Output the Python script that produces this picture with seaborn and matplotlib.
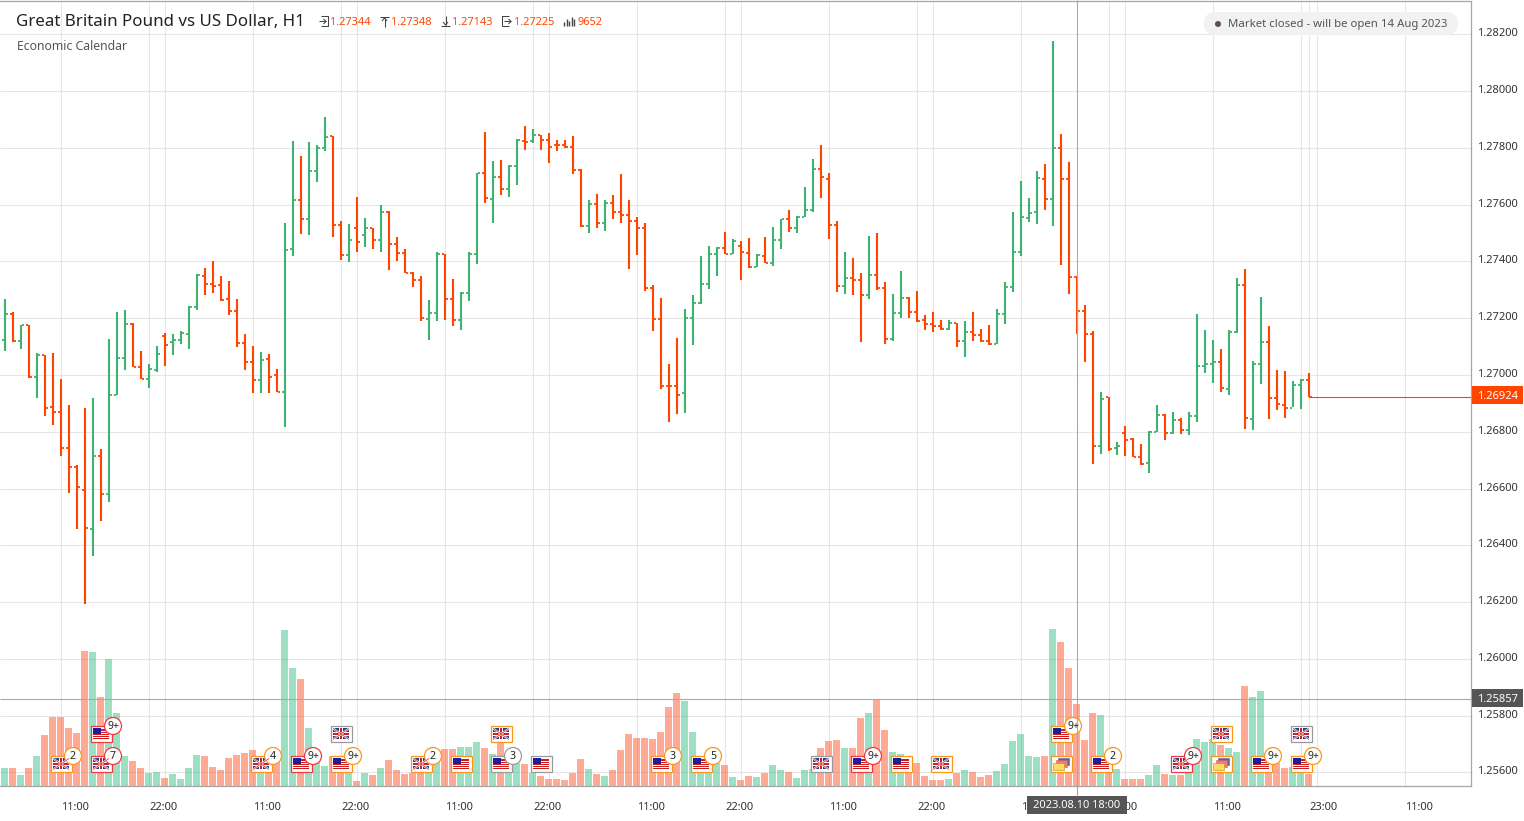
import numpy as np
import pandas as pd
import seaborn as sns
from matplotlib import pyplot as plt
from matplotlib import transforms
from matplotlib.patches import Rectangle, Circle, FancyBboxPatch

# H1 bars, one row of ten per line
opens = [
    1.27124,1.27215,1.27120,1.27175,1.26993,1.27072,1.26889,1.26870,1.26743,1.26676,
    1.26595,1.26458,1.26715,1.26581,1.26930,1.27060,1.27180,1.27029,1.26986,1.27018,
    1.27139,1.27117,1.27124,1.27146,1.27239,1.27350,1.27321,1.27317,1.27267,1.27226,
    1.27114,1.27047,1.26983,1.27057,1.27000,1.26941,1.27445,1.27616,1.27551,1.27720,
    1.27801,1.27841,1.27530,1.27424,1.27519,1.27495,1.27517,1.27474,1.27576,1.27463,
    1.27431,1.27361,1.27336,1.27199,1.27217,1.27425,1.27269,1.27195,1.27290,1.27428,
    1.27711,1.27619,1.27696,1.27657,1.27738,1.27826,1.27826,1.27845,1.27829,1.27812,
    1.27809,1.27802,1.27724,1.27526,1.27604,1.27537,1.27607,1.27573,1.27563,1.27541,
    1.27519,1.27306,1.27199,1.26963,1.26963,1.26935,1.27202,1.27252,1.27319,1.27428,
    1.27449,1.27428,1.27456,1.27431,1.27382,1.27421,1.27396,1.27477,1.27548,1.27519,
    1.27558,1.27583,1.27727,1.27692,1.27530,1.27312,1.27343,1.27333,1.27283,1.27354,
    1.27308,1.27127,1.27219,1.27273,1.27222,1.27194,1.27180,1.27173,1.27162,1.27185,
    1.27120,1.27150,1.27142,1.27121,1.27110,1.27215,1.27310,1.27435,1.27553,1.27575,
    1.27691,1.27620,1.27800,1.27691,1.27344,1.27226,1.27145,1.26751,1.26921,1.26744,
    1.26795,1.26776,1.26712,1.26689,1.26800,1.26860,1.26797,1.26843,1.26807,1.26854,
    1.27033,1.27040,1.27047,1.26952,1.27150,1.27318,1.26846,1.27040,1.27117,1.26920,
    1.26896,1.26885,1.26966,1.26984]
highs = [
    1.27268,1.27221,1.27175,1.27175,1.27077,1.27072,1.27077,1.26985,1.26894,1.26682,
    1.26883,1.26918,1.26739,1.27126,1.27221,1.27228,1.27182,1.27084,1.27038,1.27101,
    1.27147,1.27144,1.27154,1.27242,1.27355,1.27377,1.27401,1.27348,1.27331,1.27268,
    1.27144,1.27101,1.27080,1.27073,1.27020,1.27536,1.27826,1.27772,1.27821,1.27811,
    1.27909,1.27842,1.27543,1.27532,1.27627,1.27553,1.27518,1.27599,1.27578,1.27487,
    1.27444,1.27362,1.27349,1.27265,1.27434,1.27425,1.27339,1.27292,1.27434,1.27712,
    1.27856,1.27754,1.27758,1.27739,1.27832,1.27877,1.27867,1.27846,1.27853,1.27828,
    1.27828,1.27842,1.27726,1.27617,1.27638,1.27617,1.27634,1.27708,1.27617,1.27557,
    1.27536,1.27317,1.27272,1.27039,1.27131,1.27233,1.27282,1.27420,1.27455,1.27451,
    1.27504,1.27480,1.27472,1.27483,1.27427,1.27487,1.27522,1.27550,1.27582,1.27559,
    1.27663,1.27761,1.27811,1.27712,1.27543,1.27434,1.27413,1.27360,1.27490,1.27501,
    1.27328,1.27285,1.27366,1.27274,1.27295,1.27211,1.27221,1.27193,1.27193,1.27185,
    1.27189,1.27221,1.27161,1.27175,1.27232,1.27327,1.27573,1.27683,1.27623,1.27718,
    1.27742,1.28176,1.27848,1.27749,1.27348,1.27246,1.27154,1.26940,1.26922,1.26764,
    1.26820,1.26778,1.26757,1.26802,1.26894,1.26863,1.26870,1.26849,1.26870,1.27215,
    1.27158,1.27123,1.27092,1.27158,1.27342,1.27373,1.27049,1.27275,1.27173,1.27018,
    1.27014,1.26979,1.26986,1.27007]
lows = [
    1.27086,1.27115,1.27090,1.26988,1.26918,1.26857,1.26825,1.26713,1.26586,1.26456,
    1.26193,1.26361,1.26487,1.26551,1.26930,1.27019,1.27027,1.26985,1.26956,1.27012,
    1.27033,1.27069,1.27111,1.27093,1.27229,1.27281,1.27288,1.27260,1.27211,1.27100,
    1.27016,1.26935,1.26935,1.26935,1.26939,1.26818,1.27418,1.27496,1.27492,1.27679,
    1.27788,1.27485,1.27404,1.27397,1.27433,1.27450,1.27443,1.27433,1.27369,1.27401,
    1.27359,1.27309,1.27190,1.27123,1.27191,1.27193,1.27172,1.27158,1.27260,1.27390,
    1.27605,1.27535,1.27633,1.27626,1.27669,1.27792,1.27818,1.27792,1.27746,1.27788,
    1.27799,1.27708,1.27521,1.27499,1.27517,1.27506,1.27549,1.27535,1.27373,1.27422,
    1.27295,1.27154,1.26950,1.26834,1.26862,1.26866,1.27105,1.27249,1.27302,1.27348,
    1.27425,1.27425,1.27334,1.27376,1.27380,1.27394,1.27383,1.27443,1.27503,1.27499,
    1.27556,1.27573,1.27623,1.27478,1.27292,1.27285,1.27281,1.27116,1.27267,1.27299,
    1.27109,1.27121,1.27202,1.27202,1.27188,1.27160,1.27150,1.27160,1.27157,1.27097,
    1.27065,1.27121,1.27118,1.27104,1.27108,1.27178,1.27294,1.27421,1.27540,1.27533,
    1.27583,1.27526,1.27389,1.27287,1.27143,1.27047,1.26685,1.26721,1.26731,1.26717,
    1.26714,1.26710,1.26682,1.26654,1.26798,1.26770,1.26791,1.26791,1.26788,1.26833,
    1.27006,1.26971,1.26939,1.26928,1.27148,1.26809,1.26805,1.26967,1.26844,1.26876,
    1.26847,1.26886,1.26879,1.26921]
closes = [
    1.27215,1.27119,1.27175,1.26992,1.27072,1.26883,1.26870,1.26743,1.26676,1.26606,
    1.26462,1.26715,1.26581,1.26930,1.27060,1.27180,1.27029,1.26986,1.27022,1.27074,
    1.27106,1.27124,1.27147,1.27241,1.27352,1.27321,1.27314,1.27266,1.27225,1.27114,
    1.27047,1.26983,1.27053,1.26993,1.26941,1.27442,1.27616,1.27551,1.27720,1.27801,
    1.27840,1.27530,1.27424,1.27477,1.27470,1.27519,1.27474,1.27576,1.27463,1.27431,
    1.27360,1.27336,1.27202,1.27217,1.27425,1.27269,1.27195,1.27290,1.27428,1.27711,
    1.27622,1.27696,1.27657,1.27738,1.27827,1.27822,1.27845,1.27827,1.27805,1.27811,
    1.27802,1.27724,1.27524,1.27604,1.27537,1.27607,1.27573,1.27565,1.27541,1.27519,
    1.27306,1.27199,1.26963,1.26963,1.26931,1.27202,1.27252,1.27319,1.27428,1.27449,
    1.27428,1.27471,1.27435,1.27379,1.27423,1.27396,1.27477,1.27548,1.27519,1.27558,
    1.27583,1.27727,1.27696,1.27530,1.27312,1.27343,1.27333,1.27283,1.27354,1.27308,
    1.27127,1.27219,1.27272,1.27222,1.27192,1.27181,1.27174,1.27162,1.27185,1.27120,
    1.27150,1.27142,1.27121,1.27110,1.27215,1.27310,1.27435,1.27557,1.27572,1.27695,
    1.27620,1.27800,1.27691,1.27346,1.27225,1.27145,1.26750,1.26917,1.26741,1.26751,
    1.26772,1.26712,1.26688,1.26800,1.26860,1.26797,1.26843,1.26807,1.26854,1.27033,
    1.27040,1.27047,1.26955,1.27150,1.27318,1.26850,1.27040,1.27117,1.26920,1.26899,
    1.26885,1.26966,1.26984,1.26924]
volumes = [
    2156,2156,1333,2156,3567,6037,8154,8154,6860,6272,
    15915,15798,10506,14974,8624,3567,2979,2156,1568,1686,
    980,1450,862,2156,3685,3567,2274,1921,3332,3685,
    3920,4273,2509,2705,4273,18385,13916,12622,6860,3920,
    2391,3567,3097,1529,627,1568,1333,2156,3097,1921,
    1450,1568,1921,2313,3097,4390,4390,4626,4626,5214,
    4508,3802,5449,2313,2705,2626,1529,1215,862,862,
    745,1568,3214,2038,1450,1215,1921,4273,6154,5684,
    5684,5566,6390,9330,10976,10035,6390,3097,2509,2705,
    2509,1098,745,1215,1098,1568,2509,1921,1686,980,
    1921,2038,4508,5331,5449,4508,4508,8036,8624,10153,
    6625,4038,3802,2744,2744,1215,745,745,862,1568,
    1921,1686,1098,1333,1803,2626,5331,6154,3567,3450,
    3567,18502,16974,13916,9652,5449,8624,8389,2313,2038,
    862,862,862,1333,2509,1450,1333,1333,2313,5566,
    5214,5566,4861,4508,4038,11799,10506,11211,3097,2705,
    2156,2313,2313,1450]

price_ticks = [1.256,1.258,1.260,1.262,1.264,1.266,1.268,1.270,1.272,1.274,1.276,1.278,1.280,1.282]
time_bars = [7,18,31,42,55,66,79,90,103,114,127,138,151,163,175]
time_labels = ['11:00','22:00','11:00','22:00','11:00','22:00','11:00','22:00','11:00','22:00','11:00','22:00','11:00','23:00','11:00']
extra_grid_bars = [20,44,68,92,116,140,162,164]

# calendar events
event_bars = [7,12,12,32,37,42,42,52,57,62,62,67,82,87,102,107,112,117,132,132,137,147,152,152,157,162,162]
event_rows = [0,1,0,0,0,1,0,0,0,1,0,0,0,0,0,0,0,0,1,0,0,0,1,0,0,1,0]
event_kind = ['uk','us','uk','uk','us','uk','us','uk','us','uk','us','us','us','us','uk','us','us','uk','us','all','us','uk','uk','all','us','uk','us']
event_level = ['o','r','r','o','r','g','o','o','o','o','g','g','o','o','g','r','o','o','o','o','o','r','o','o','o','g','o']
event_count = ['2','9+','7','4','9+','','9+','2','','','3','','3','5','','9+','','','9+','','2','9+','','','9+','','9+']

cross_bar = 134
cross_price = 1.25857
cross_time = '2023.08.10 18:00'
last_price = closes[-1]

UP = '#3cb371'
DOWN = '#ff4500'
VOL_UP = '#3bc187'
VOL_DOWN = '#ff572d'
GRID = '#e6e6e6'
BORDER = '#a6a6a6'
LEVELS = {'o': '#f7981d', 'r': '#ee3a43', 'g': '#9a9a9a'}

sns.set_theme(style='white')
plt.rcParams['font.family'] = ['Noto Sans', 'DejaVu Sans']

W, H = 1524, 821
fig = plt.figure(figsize=(W / 100, H / 100), dpi=100)
top_px, bottom_px, right_px = 1.0, 786.3, 1470.5
ax = fig.add_axes([0, 1 - bottom_px / H, right_px / W, (bottom_px - top_px) / H])
ax_vol = ax.twinx()

df = pd.DataFrame({'bar': np.arange(len(opens)), 'o': opens, 'h': highs, 'l': lows, 'c': closes, 'v': volumes})
df['side'] = np.where(df['c'] > df['o'], 'up', 'down')
colors = df['side'].map({'up': UP, 'down': DOWN}).values

# volume underneath on its own scale
sns.barplot(data=df, x='bar', y='v', hue='side', hue_order=['up', 'down'],
            palette={'up': VOL_UP, 'down': VOL_DOWN}, native_scale=True, dodge=False, width=0.875,
            alpha=0.5, saturation=1, linewidth=0, errorbar=None, legend=False, ax=ax_vol)
# half a pixel left so each bar lands on 7 whole pixels
for p in ax_vol.patches:
    p.set_x(p.get_x() - 0.0625)

# open/close ticks and high-low sticks
ax.vlines(df['bar'], df['l'], df['h'], colors=colors, linewidth=1.5, zorder=3)
ax.hlines(df['o'], df['bar'] - 0.375, df['bar'] - 0.125, colors=colors, linewidth=1.3, zorder=3)
ax.hlines(df['c'], df['bar'] + 0.125, df['bar'] + 0.375, colors=colors, linewidth=1.3, zorder=3)

xlim = (-5 / 8, (right_px - 5) / 8)
ax.plot([df['bar'].iloc[-1], xlim[1]], [last_price, last_price], color=DOWN, linewidth=0.8, zorder=3)

ax.set_xlim(xlim)
ax.set_ylim(1.282 - (bottom_px - 34.4) * 3.523e-5, 1.282 + (34.4 - top_px) * 3.523e-5)
ax_vol.set_ylim(0, (bottom_px - top_px) * 117.7)
ax_vol.set_xlim(xlim)
ax_vol.set_xlabel('')
ax_vol.set_ylabel('')
ax_vol.set_yticks([])
ax_vol.grid(False)
for s in ax_vol.spines.values():
    s.set_visible(False)

ax.yaxis.tick_right()
ax.set_yticks(price_ticks)
ax.set_yticklabels(['%.5f' % p for p in price_ticks])
ax.set_xticks(time_bars)
ax.set_xticklabels(time_labels)
ax.set_xticks(extra_grid_bars, minor=True)
ax.grid(which='both', color=GRID, linewidth=0.75)
ax.set_axisbelow(True)
ax.tick_params(which='both', length=0)
ax.tick_params(axis='y', pad=4.4, labelsize=8, labelcolor='#333333')
ax.tick_params(axis='x', pad=11.4, labelsize=8, labelcolor='#333333', bottom=False)
for name, s in ax.spines.items():
    s.set_color(BORDER)
    s.set_linewidth(0.9)
ax.spines['left'].set_visible(False)

# tick labels sit off their gridlines on the terminal
shift_x = transforms.ScaledTranslation(14 / 100, 0, fig.dpi_scale_trans)
shift_y = transforms.ScaledTranslation(0, 2 / 100, fig.dpi_scale_trans)
for lbl in ax.get_xticklabels():
    lbl.set_transform(lbl.get_transform() + shift_x)
for lbl in ax.get_yticklabels():
    lbl.set_transform(lbl.get_transform() + shift_y)

# everything else is laid over in pixel coordinates
ov = fig.add_axes([0, 0, 1, 1], zorder=10)
ov.set_xlim(0, W)
ov.set_ylim(H, 0)
ov.axis('off')
ov.patch.set_visible(False)


def to_px(bar, price=None):
    x, y = ax.transData.transform((bar, price if price is not None else ax.get_ylim()[0]))
    return x, H - y


def line(xs, ys, color, lw=0.75):
    ov.plot(xs, ys, color=color, linewidth=lw, solid_capstyle='butt')


def draw_flag(cx, top, kind, level, count):
    edge = LEVELS[level]
    ov.add_patch(Rectangle((cx - 10.5, top), 21, 16, facecolor='white', edgecolor=edge, linewidth=0.9))
    fx, fy, fw, fh = cx - 8, top + 2.5, 16, 11
    if kind == 'us':
        for k in range(5):
            ov.add_patch(Rectangle((fx, fy + 1 + k * 2.2), fw, 1.1, facecolor='#cc1c1c', linewidth=0))
        ov.add_patch(Rectangle((fx, fy), 7.5, 6, facecolor='#1c1c9e', linewidth=0))
    elif kind == 'uk':
        ov.add_patch(Rectangle((fx, fy), fw, fh, facecolor='#22408f', linewidth=0))
        line([fx, fx + fw], [fy, fy + fh], 'white', 1.4)
        line([fx, fx + fw], [fy + fh, fy], 'white', 1.4)
        line([fx, fx + fw], [fy, fy + fh], '#cc1c1c', 0.5)
        line([fx, fx + fw], [fy + fh, fy], '#cc1c1c', 0.5)
        ov.add_patch(Rectangle((fx + 6, fy), 4, fh, facecolor='white', linewidth=0))
        ov.add_patch(Rectangle((fx, fy + 3.5), fw, 4, facecolor='white', linewidth=0))
        ov.add_patch(Rectangle((fx + 7, fy), 2, fh, facecolor='#cc1c1c', linewidth=0))
        ov.add_patch(Rectangle((fx, fy + 4.5), fw, 2, facecolor='#cc1c1c', linewidth=0))
    else:
        ov.add_patch(Rectangle((cx - 3, top + 2.5), 11, 7, facecolor='#5a5fb0', edgecolor='#5a5fb0', linewidth=0.4))
        ov.add_patch(Rectangle((cx - 5.5, top + 4.5), 11, 7, facecolor='#ee7a6a', edgecolor='#e0605a', linewidth=0.4))
        ov.add_patch(Rectangle((cx - 8, top + 7), 11, 7, facecolor='#ffdc6a', edgecolor='#c89a20', linewidth=0.5))
    if count:
        ov.add_patch(Circle((cx + 12, top), 8.5, facecolor='white', edgecolor=edge, linewidth=0.9))
        ov.text(cx + 12, top + 0.5, count, ha='center', va='center', fontsize=7.6, color='#222222')


for bar, row, kind, level, count in zip(event_bars, event_rows, event_kind, event_level, event_count):
    draw_flag(to_px(bar)[0], 726 if row else 756, kind, level, count)

# crosshair
cx, cy = to_px(cross_bar, cross_price)
line([cx, cx], [0, 796], '#a8a8a8', 0.8)
line([0, right_px], [cy, cy], '#a8a8a8', 0.8)
ov.add_patch(Rectangle((1472, cy - 10), 51, 18, facecolor='#555555', linewidth=0))
ov.text(1477, cy, '%.5f' % cross_price, ha='left', va='center', fontsize=8, color='white')
ov.add_patch(Rectangle((cx - 50, 796), 100, 18, facecolor='#555555', linewidth=0))
ov.text(cx, 806, cross_time, ha='center', va='center', fontsize=8, color='white')

# last price box
lx, ly = to_px(len(opens) - 1, last_price)
ov.add_patch(Rectangle((1472, ly - 10.5), 51, 18, facecolor=DOWN, linewidth=0))
ov.text(1477, ly, '%.5f' % last_price, ha='left', va='center', fontsize=8, color='white', fontweight='medium')

# header
ov.text(16, 22, 'Great Britain Pound vs US Dollar, H1', ha='left', va='center', fontsize=12.2, color='#222222')
ov.text(17, 47, 'Economic Calendar', ha='left', va='center', fontsize=8.8, color='#555555')
bar_o, bar_h, bar_l, bar_c = opens[cross_bar], highs[cross_bar], lows[cross_bar], closes[cross_bar]
for x, val in zip([330, 391, 452, 514], [bar_o, bar_h, bar_l, bar_c]):
    ov.text(x, 22.5, '%.5f' % val, ha='left', va='center', fontsize=7.9, color=DOWN)
ov.text(578, 22.5, str(volumes[cross_bar]), ha='left', va='center', fontsize=7.9, color=DOWN)
ic = '#444444'
line([319, 326], [21.5, 21.5], ic); line([323.5, 326, 323.5], [19, 21.5, 24], ic); line([321, 328, 328, 321], [16.5, 16.5, 26.5, 26.5], ic)
line([380, 389], [17, 17], ic); line([384.5, 384.5], [18, 27], ic); line([382, 384.5, 387], [21, 18, 21], ic)
line([441, 450], [26, 26], ic); line([445.5, 445.5], [16, 25], ic); line([443, 445.5, 448], [22, 25, 22], ic)
line([509, 502, 502, 509], [16.5, 16.5, 26.5, 26.5], ic); line([504, 511], [21.5, 21.5], ic); line([508.5, 511, 508.5], [19, 21.5, 24], ic)
for x, h in zip([564, 566.5, 569, 571.5, 574], [4, 7, 5, 9, 7]):
    line([x, x], [26.5, 26.5 - h], ic, 1)

# market status pill
ov.add_patch(FancyBboxPatch((1204, 12), 254, 23, boxstyle='round,pad=0,rounding_size=11.5', facecolor='#f2f2f2', linewidth=0))
ov.add_patch(Circle((1218, 24), 3, facecolor='#5d4f4f', linewidth=0))
ov.text(1228, 25, 'Market closed - will be open 14 Aug 2023', ha='left', va='center', fontsize=8.2, color='#555555')

fig.savefig('out.png', dpi=100)
